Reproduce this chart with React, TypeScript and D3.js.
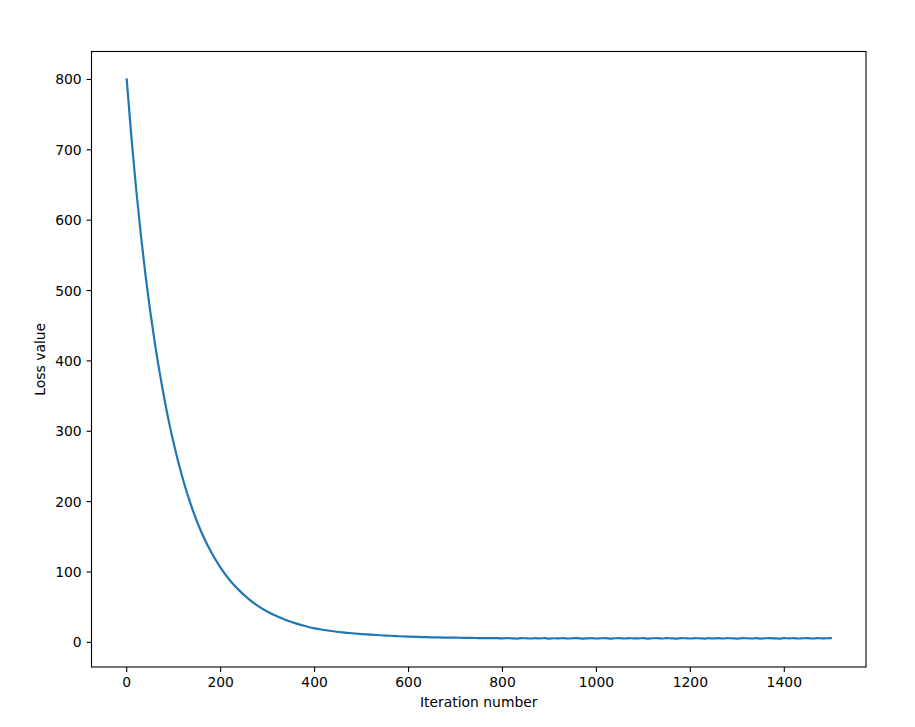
import React from "react";
import * as d3 from "d3";

// Iteration numbers sampled along the curve and the loss read at each one
const headIters = [0, 10, 20, 30, 40, 50, 60, 70, 80, 90, 100, 120, 140, 160, 180, 200, 220, 240, 260, 280, 300, 320, 340, 360, 380, 400, 420, 440, 460, 480, 500, 520, 540, 560, 580, 600, 620, 640, 660, 680, 700, 720, 740, 760, 780];
const headLoss = [800, 718, 645, 580, 522, 471, 425, 384, 347, 313, 283, 231, 189, 155, 128, 106, 88, 73.5, 61.5, 51.5, 43.5, 37, 31.5, 27, 23.2, 19.8, 17.6, 15.8, 14.2, 12.9, 11.8, 10.9, 10.1, 9.4, 8.7, 8.1, 7.7, 7.4, 7.0, 6.8, 6.6, 6.5, 6.2, 6.1, 5.9];

const tailStart = 790;
const tailStep = 10;
const tailLoss = [
  5.9, 5.6, 6.0, 5.7, 5.4, 6.0, 5.8, 5.5, 5.9, 5.6,
  6.0, 5.4, 5.8, 5.7, 6.0, 5.5, 5.8, 6.1, 5.4, 5.6,
  5.9, 5.5, 5.8, 6.0, 5.3, 5.8, 5.9, 5.5, 6.0, 5.6,
  5.7, 5.9, 5.4, 5.8, 5.9, 5.5, 6.1, 5.6, 5.3, 5.9,
  5.8, 5.5, 6.0, 5.7, 5.4, 5.9, 5.6, 5.9, 5.5, 6.1,
  5.6, 5.3, 5.9, 5.8, 5.5, 6.0, 5.4, 5.8, 6.0, 5.6,
  5.4, 5.9, 5.7, 6.0, 5.5, 5.8, 5.9, 5.5, 6.0, 5.6,
  5.8, 5.9,
];
const lastIter = 1499;

const xTicks = [0, 200, 400, 600, 800, 1000, 1200, 1400];
const yTicks = [0, 100, 200, 300, 400, 500, 600, 700, 800];

export default function App() {
  const W = 915, H = 727;
  const L = 91.5, R = 866, T = 51.5, B = 667;

  const tailIters = tailLoss.map((_, i) => Math.min(tailStart + i * tailStep, lastIter));
  const data: [number, number][] = [
    ...headIters.map((x, i) => [x, headLoss[i]] as [number, number]),
    ...tailIters.map((x, i) => [x, tailLoss[i]] as [number, number]),
  ];

  const xExt = [0, lastIter];
  const yExt = d3.extent(data, (d) => d[1]) as [number, number];
  const xPad = (xExt[1] - xExt[0]) * 0.05;
  const yPad = (yExt[1] - yExt[0]) * 0.05;
  const x = d3.scaleLinear().domain([xExt[0] - xPad, xExt[1] + xPad]).range([L, R]);
  const y = d3.scaleLinear().domain([yExt[0] - 0.6 - yPad, yExt[1] + yPad]).range([B, T]);

  const line = d3
    .line<[number, number]>()
    .x((d) => x(d[0]))
    .y((d) => y(d[1]))
    .curve(d3.curveMonotoneX);

  const font = "DejaVu Sans";
  const fs = 13.9;
  const tick = 4.9;

  return (
    <svg width={W} height={H} style={{ position: "absolute", left: 0, top: 0, background: "#fff" }} fontFamily={font}>
      <rect x={0} y={0} width={W} height={H} fill="#fff" />
      <path d={line(data) || ""} fill="none" stroke="#1f77b4" strokeWidth={2.2} strokeLinejoin="round" strokeLinecap="square" />
      <rect x={L} y={T} width={R - L} height={B - T} fill="none" stroke="#000" strokeWidth={1.1} />
      {xTicks.map((t) => (
        <g key={"x" + t} transform={`translate(${x(t)},${B})`}>
          <line y1={0} y2={tick} stroke="#000" strokeWidth={1.1} />
          <text y={tick + 4.9} dy="0.76em" textAnchor="middle" fontSize={fs} fill="#000">
            {t}
          </text>
        </g>
      ))}
      {yTicks.map((t) => (
        <g key={"y" + t} transform={`translate(${L},${y(t)})`}>
          <line x1={0} x2={-tick} stroke="#000" strokeWidth={1.1} />
          <text x={-tick - 4.9} dy="0.36em" textAnchor="end" fontSize={fs} fill="#000">
            {t}
          </text>
        </g>
      ))}
      <text x={(L + R) / 2} y={707} textAnchor="middle" fontSize={fs} fill="#000">
        Iteration number
      </text>
      <text transform={`translate(45,${(T + B) / 2}) rotate(-90)`} textAnchor="middle" fontSize={fs} fill="#000">
        Loss value
      </text>
    </svg>
  );
}
